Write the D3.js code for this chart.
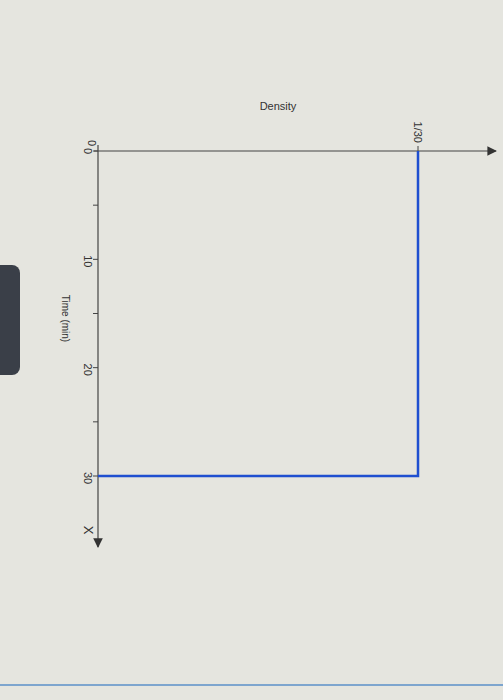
<!DOCTYPE html>
<html><head><meta charset="utf-8">
<script src="https://cdn.jsdelivr.net/npm/d3@7"></script>
<style>body{margin:0;background:#e4e4de}text{font-family:"Liberation Sans",Arial,sans-serif;fill:#333}</style>
</head><body>
<script>
// chart is photographed rotated: time runs down the page, density runs right
const timeTicks = [0, 10, 20, 30]
const timeMinor = [5, 15, 25]
const densityPoints = [[0, 30], [1 / 30, 30], [1 / 30, 0]] // [density, time]

const W = 503, H = 700
const svg = d3.select('body').append('svg').attr('width', W).attr('height', H)
svg.append('rect').attr('width', W).attr('height', H).attr('fill', '#e5e5df')

const t = d3.scaleLinear().domain([0, 30]).range([151, 476])
const d = d3.scaleLinear().domain([0, 1 / 30]).range([98, 418])

const ax = '#444'
// arrow
svg.append('defs').append('marker').attr('id', 'arr').attr('viewBox', '0 0 10 10')
  .attr('refX', 9).attr('refY', 5).attr('markerWidth', 8).attr('markerHeight', 8).attr('orient', 'auto')
  .append('path').attr('d', 'M0,0L10,5L0,10z').attr('fill', '#333')

svg.append('line').attr('x1', d(0)).attr('x2', d(0)).attr('y1', t(0) - 6).attr('y2', 547)
  .attr('stroke', ax).attr('stroke-width', 1.2).attr('marker-end', 'url(#arr)')
svg.append('line').attr('x1', d(0) - 4).attr('x2', 496).attr('y1', t(0)).attr('y2', t(0))
  .attr('stroke', ax).attr('stroke-width', 1.2).attr('marker-end', 'url(#arr)')

// time ticks
timeTicks.concat(timeMinor).forEach(v => {
  svg.append('line').attr('x1', d(0) - 5).attr('x2', d(0)).attr('y1', t(v)).attr('y2', t(v)).attr('stroke', ax)
})
timeTicks.forEach(v => {
  svg.append('text').attr('transform', `translate(${d(0) - 14},${t(v) + (v === 0 ? 0 : 2)}) rotate(90)`)
    .attr('text-anchor', 'middle').attr('font-size', 11).text(v)
})
svg.append('text').attr('transform', `translate(${d(0) - 10},${t(0) - 8}) rotate(90)`)
  .attr('text-anchor', 'middle').attr('font-size', 11).text('0')
svg.append('text').attr('transform', `translate(${d(0) - 14},530) rotate(90)`)
  .attr('text-anchor', 'middle').attr('font-size', 13).text('X')
svg.append('text').attr('transform', `translate(62,${t(15) + 5}) rotate(90)`)
  .attr('text-anchor', 'middle').attr('font-size', 10).text('Time (min)')

// density tick
svg.append('line').attr('x1', d(1 / 30)).attr('x2', d(1 / 30)).attr('y1', t(0) - 5).attr('y2', t(0)).attr('stroke', ax)
svg.append('text').attr('transform', `translate(${d(1 / 30) - 4},${t(0) - 8}) rotate(90)`)
  .attr('text-anchor', 'end').attr('font-size', 11).text('1/30')
svg.append('text').attr('x', 278).attr('y', 110).attr('text-anchor', 'middle').attr('font-size', 11).text('Density')

// density line
const line = d3.line().x(p => d(p[0])).y(p => t(p[1]))
svg.append('path').attr('d', line(densityPoints)).attr('fill', 'none')
  .attr('stroke', '#1f4fd0').attr('stroke-width', 2.5)

// photo artefacts
svg.append('rect').attr('x', -12).attr('y', 265).attr('width', 32).attr('height', 110).attr('rx', 8).attr('fill', '#3a3f48')
svg.append('line').attr('x1', 0).attr('x2', W).attr('y1', 685).attr('y2', 685).attr('stroke', '#5a8fc8').attr('stroke-width', 1.5)
</script>
</body></html>
